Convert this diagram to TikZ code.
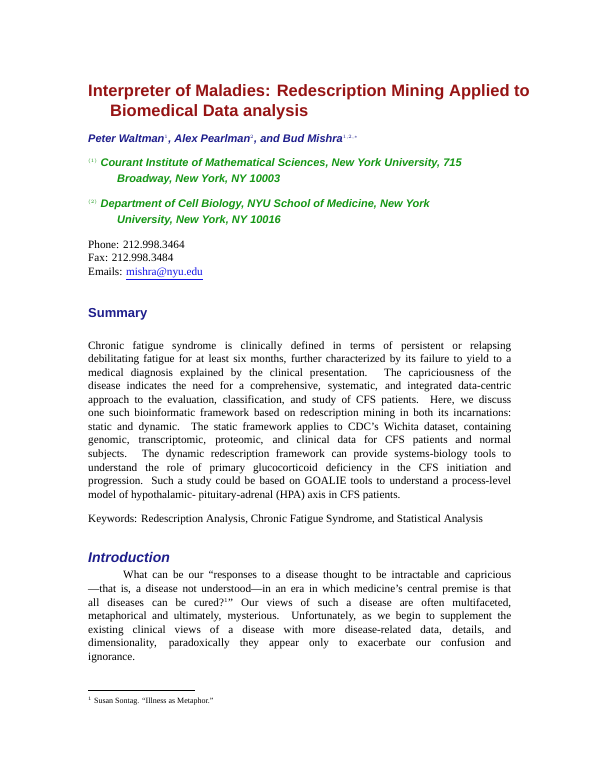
\documentclass[tikz,border=0pt]{standalone}
\usepackage{fontspec}
\setmainfont{Liberation Serif}
\newfontfamily\hsans{Liberation Sans}
\definecolor{tred}{RGB}{150,20,20}
\definecolor{tblue}{RGB}{30,30,140}
\definecolor{tgreen}{RGB}{20,150,20}
\definecolor{lblue}{RGB}{20,20,230}
\begin{document}
\begin{tikzpicture}[x=1pt,y=1pt,
  txt/.style={anchor=base west,inner sep=0pt},
  para/.style={anchor=north west,inner sep=0pt,text width=423pt,align=justify,font=\fontsize{11.2}{13.55}\selectfont}]
\useasboundingbox[fill=white] (0,0) rectangle (600,-776);
\node[txt,font=\hsans\bfseries\fontsize{16.5}{20}\selectfont,text=tred] (t1) at (88,-96) {Interpreter of Maladies: Redescription Mining Applied to};
\node[txt,font=\hsans\bfseries\fontsize{16.5}{20}\selectfont,text=tred] (t2) at (110,-116) {Biomedical Data analysis};
\node[txt,font=\hsans\bfseries\itshape\fontsize{11}{13}\selectfont,text=tblue] (au) at (88,-142) {Peter Waltman$^{\scriptscriptstyle 1}$, Alex Pearlman$^{\scriptscriptstyle 2}$, and Bud Mishra$^{\scriptscriptstyle 1,2,*}$};
\node[txt,font=\hsans\bfseries\itshape\fontsize{11}{13}\selectfont,text=tgreen] (a1) at (88,-166) {$^{\scriptscriptstyle (1)}$ Courant Institute of Mathematical Sciences, New York University, 715};
\node[txt,font=\hsans\bfseries\itshape\fontsize{11}{13}\selectfont,text=tgreen] (a1b) at (117,-182) {Broadway, New York, NY 10003};
\node[txt,font=\hsans\bfseries\itshape\fontsize{11}{13}\selectfont,text=tgreen] (a2) at (88,-207) {$^{\scriptscriptstyle (2)}$ Department of Cell Biology, NYU School of Medicine, New York};
\node[txt,font=\hsans\bfseries\itshape\fontsize{11}{13}\selectfont,text=tgreen] (a2b) at (117,-223) {University, New York, NY 10016};
\node[txt,font=\fontsize{11.2}{13}\selectfont] (ph) at (88,-248) {Phone: 212.998.3464};
\node[txt,font=\fontsize{11.2}{13}\selectfont] (fx) at (88,-261.5) {Fax: 212.998.3484};
\node[txt,font=\fontsize{11.2}{13}\selectfont] (em) at (88,-275) {Emails: \textcolor{lblue}{\underline{mishra@nyu.edu}}};
\node[txt,font=\hsans\bfseries\fontsize{13}{15}\selectfont,text=tblue] (sum) at (88,-317) {Summary};
\node[para] (body) at (88,-341) {Chronic fatigue syndrome is clinically defined in terms of persistent or relapsing\linebreak
debilitating fatigue for at least six months, further characterized by its failure to yield to a\linebreak
medical diagnosis explained by the clinical presentation. The capriciousness of the\linebreak
disease indicates the need for a comprehensive, systematic, and integrated data-centric\linebreak
approach to the evaluation, classification, and study of CFS patients. Here, we discuss\linebreak
one such bioinformatic framework based on redescription mining in both its incarnations:\linebreak
static and dynamic. The static framework applies to CDC's Wichita dataset, containing\linebreak
genomic, transcriptomic, proteomic, and clinical data for CFS patients and normal\linebreak
subjects. The dynamic redescription framework can provide systems-biology tools to\linebreak
understand the role of primary glucocorticoid deficiency in the CFS initiation and\linebreak
progression. Such a study could be based on GOALIE tools to understand a process-level\linebreak
model of hypothalamic- pituitary-adrenal (HPA) axis in CFS patients.};
\node[txt,font=\fontsize{11.2}{13}\selectfont] (kw) at (88,-522) {Keywords: Redescription Analysis, Chronic Fatigue Syndrome, and Statistical Analysis};
\node[txt,font=\hsans\bfseries\itshape\fontsize{14}{16}\selectfont,text=tblue] (intro) at (88,-562) {Introduction};
\node[para] (ibody) at (88,-571) {\hspace*{35pt}What can be our ``responses to a disease thought to be intractable and capricious\linebreak
---that is, a disease not understood---in an era in which medicine's central premise is that\linebreak
all diseases can be cured?$^{\scriptscriptstyle 1}$'' Our views of such a disease are often multifaceted,\linebreak
metaphorical and ultimately, mysterious. Unfortunately, as we begin to supplement the\linebreak
existing clinical views of a disease with more disease-related data, details, and\linebreak
dimensionality, paradoxically they appear only to exacerbate our confusion and\linebreak
ignorance.};
\coordinate (r1) at (88,-690);
\coordinate (r2) at (195,-690);
\draw[line width=0.5pt] (r1) -- (r2);
\node[txt,font=\fontsize{8}{9}\selectfont] (fn) at (88,-703) {$^{\scriptscriptstyle 1}$ Susan Sontag. ``Illness as Metaphor.''};
\end{tikzpicture}
\end{document}
